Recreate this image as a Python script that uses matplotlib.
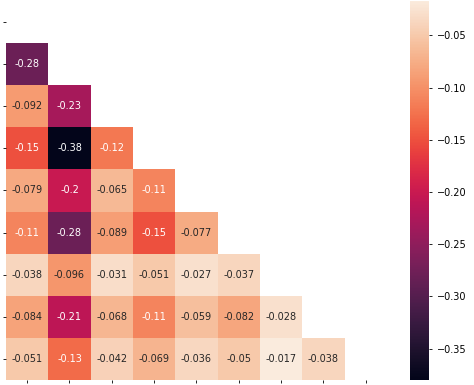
import numpy as np
import matplotlib
matplotlib.use("agg")
import matplotlib.pyplot as plt
import seaborn as sns

# lower-triangle correlation values, row by row (row 0 is fully masked)
row1 = [-0.28]
row2 = [-0.092, -0.23]
row3 = [-0.15, -0.38, -0.12]
row4 = [-0.079, -0.2, -0.065, -0.11]
row5 = [-0.11, -0.28, -0.089, -0.15, -0.077]
row6 = [-0.038, -0.096, -0.031, -0.051, -0.027, -0.037]
row7 = [-0.084, -0.21, -0.068, -0.11, -0.059, -0.082, -0.028]
row8 = [-0.051, -0.13, -0.042, -0.069, -0.036, -0.05, -0.017, -0.038]
rows = [[], row1, row2, row3, row4, row5, row6, row7, row8]
tick_labels = [""] * 9

n = len(rows)
corr = np.zeros((n, n))
for i, r in enumerate(rows):
    for j, v in enumerate(r):
        corr[i, j] = v
        corr[j, i] = v
mask = np.triu(np.ones((n, n), dtype=bool))

plt.rcParams['font.size'] = 7
plt.rcParams['xtick.major.size'] = 2.5
plt.rcParams['ytick.major.size'] = 2.5
plt.rcParams['xtick.major.width'] = 0.6
plt.rcParams['ytick.major.width'] = 0.6

fig = plt.figure(figsize=(4.74, 3.85), dpi=100)
ax = fig.add_axes([6 / 474, 5 / 385, 381 / 474, 379 / 385])
cax = fig.add_axes([410 / 474, 5 / 385, 19 / 474, 379 / 385])

sns.heatmap(corr, mask=mask, annot=True, ax=ax, cbar_ax=cax,
            xticklabels=tick_labels, yticklabels=tick_labels,
            annot_kws={'size': 7})
cax.tick_params(labelsize=7, length=2.5, width=0.6)
for s in cax.spines.values():
    s.set_visible(False)

plt.savefig("out.png", dpi=100)
